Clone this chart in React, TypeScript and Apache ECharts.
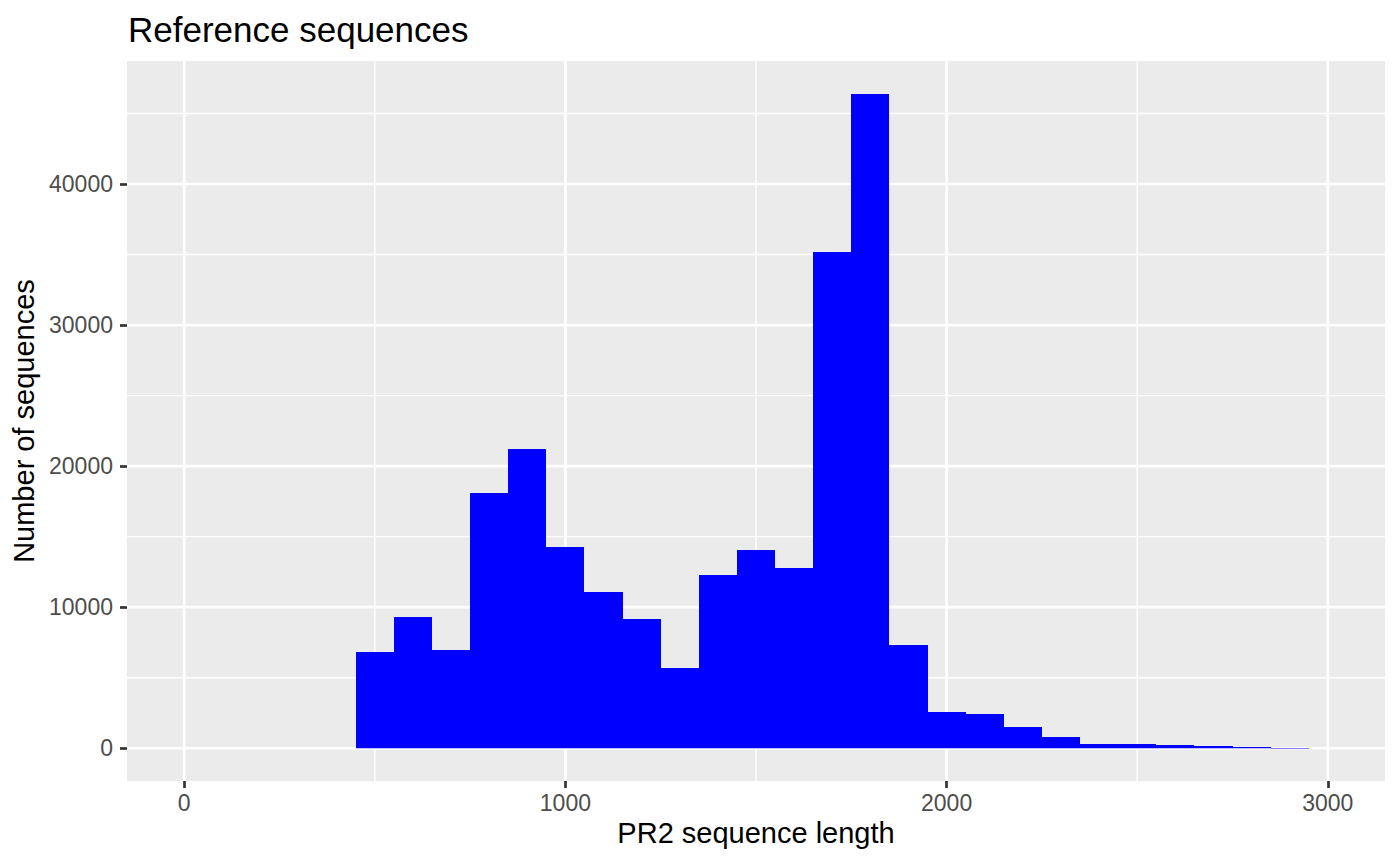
import React, { useEffect, useRef } from "react";
import * as echarts from "echarts";

// Histogram bins (PR2 sequence length) and counts
const binLeft = [450, 550, 650, 750, 850, 950, 1050, 1150, 1250, 1350, 1450, 1550, 1650, 1750, 1850, 1950, 2050, 2150, 2250, 2350, 2450, 2550, 2650, 2750, 2850];
const binRight = [550, 650, 750, 850, 950, 1050, 1150, 1250, 1350, 1450, 1550, 1650, 1750, 1850, 1950, 2050, 2150, 2250, 2350, 2450, 2550, 2650, 2750, 2850, 2950];
const counts = [6800, 9300, 7000, 18100, 21200, 14250, 11050, 9150, 5700, 12250, 14050, 12750, 35200, 46400, 7300, 2600, 2400, 1500, 780, 270, 270, 200, 130, 60, 50];

// Axis ticks / grid lines
const xMajor = [0, 1000, 2000, 3000];
const xMinor = [500, 1500, 2500];
const yMajor = [0, 10000, 20000, 30000, 40000];
const yMinor = [5000, 15000, 25000, 35000, 45000];

const titleText = "Reference sequences";
const xTitle = "PR2 sequence length";
const yTitle = "Number of sequences";

const FONT = "'Liberation Sans', Arial, sans-serif";

export default function App() {
  const ref = useRef<HTMLDivElement>(null);

  useEffect(() => {
    if (!ref.current) return;
    const chart = echarts.init(ref.current, undefined, { renderer: "svg" });

    // [value, kind, width]; kind 0 = vertical grid line, 1 = horizontal grid line
    const gridData: number[][] = [];
    xMajor.forEach((v) => gridData.push([v, 0, 2.7]));
    xMinor.forEach((v) => gridData.push([v, 0, 1.4]));
    yMajor.forEach((v) => gridData.push([v, 1, 2.7]));
    yMinor.forEach((v) => gridData.push([v, 1, 1.4]));

    const barData = counts.map((c, i) => [binLeft[i], binRight[i], c]);

    const tickStyle = { color: "#333333", width: 2.7 };

    chart.setOption({
      animation: false,
      backgroundColor: "#FFFFFF",
      title: {
        text: titleText,
        left: 123,
        top: 7,
        textStyle: { fontFamily: FONT, fontSize: 35, fontWeight: "normal", color: "#000000" },
      },
      grid: {
        left: 127,
        right: 15,
        top: 61,
        bottom: 84,
        show: true,
        backgroundColor: "#EBEBEB",
        borderWidth: 0,
        containLabel: false,
        outerBoundsMode: "none",
      },
      xAxis: {
        type: "value",
        min: -150,
        max: 3150,
        name: xTitle,
        nameLocation: "middle",
        nameGap: 36,
        nameTextStyle: { fontFamily: FONT, fontSize: 29, color: "#000000" },
        axisLine: { show: true, onZero: false, lineStyle: { color: "rgba(0,0,0,0)", width: 0 } },
        splitLine: { show: false },
        axisTick: { show: true, inside: false, length: 7, customValues: xMajor, lineStyle: tickStyle },
        axisLabel: {
          customValues: xMajor,
          margin: 10,
          fontFamily: FONT,
          fontSize: 23,
          color: "#4D4D4D",
          formatter: (v: number) => String(v),
        },
        z: 5,
      },
      yAxis: {
        type: "value",
        min: -2320,
        max: 48720,
        name: yTitle,
        nameLocation: "middle",
        nameGap: 83,
        nameTextStyle: { fontFamily: FONT, fontSize: 29, color: "#000000" },
        axisLine: { show: true, onZero: false, lineStyle: { color: "rgba(0,0,0,0)", width: 0 } },
        splitLine: { show: false },
        axisTick: { show: true, inside: false, length: 7, customValues: yMajor, lineStyle: tickStyle },
        axisLabel: {
          customValues: yMajor,
          margin: 14,
          fontFamily: FONT,
          fontSize: 23,
          color: "#4D4D4D",
          formatter: (v: number) => String(v),
        },
        z: 5,
      },
      series: [
        {
          type: "custom",
          name: "grid",
          silent: true,
          data: gridData,
          encode: { x: 0 },
          renderItem: (params: any, api: any) => {
            const cs = params.coordSys;
            const v = api.value(0);
            const kind = api.value(1);
            const w = api.value(2);
            if (kind === 0) {
              const px = api.coord([v, 0])[0];
              return {
                type: "line",
                shape: { x1: px, y1: cs.y, x2: px, y2: cs.y + cs.height },
                style: { stroke: "#FFFFFF", lineWidth: w },
              };
            }
            const py = api.coord([0, v])[1];
            return {
              type: "line",
              shape: { x1: cs.x, y1: py, x2: cs.x + cs.width, y2: py },
              style: { stroke: "#FFFFFF", lineWidth: w },
            };
          },
          z: 1,
        },
        {
          type: "custom",
          name: "count",
          data: barData,
          encode: { x: [0, 1], y: 2 },
          renderItem: (params: any, api: any) => {
            const x0 = api.value(0);
            const x1 = api.value(1);
            const c = api.value(2);
            const p0 = api.coord([x0, 0]);
            const p1 = api.coord([x1, c]);
            const left = Math.round(p0[0]);
            const right = Math.round(p1[0]);
            const top = Math.round(p1[1]);
            const bottom = p0[1];
            return {
              type: "rect",
              shape: { x: left, y: top, width: right - left, height: Math.max(0.5, bottom - top) },
              style: { fill: "#0000FF" },
            };
          },
          z: 2,
        },
      ],
    });

    return () => chart.dispose();
  }, []);

  return (
    <div
      ref={ref}
      style={{ position: "fixed", left: 0, top: 0, width: 1400, height: 865, background: "#FFFFFF" }}
    />
  );
}
